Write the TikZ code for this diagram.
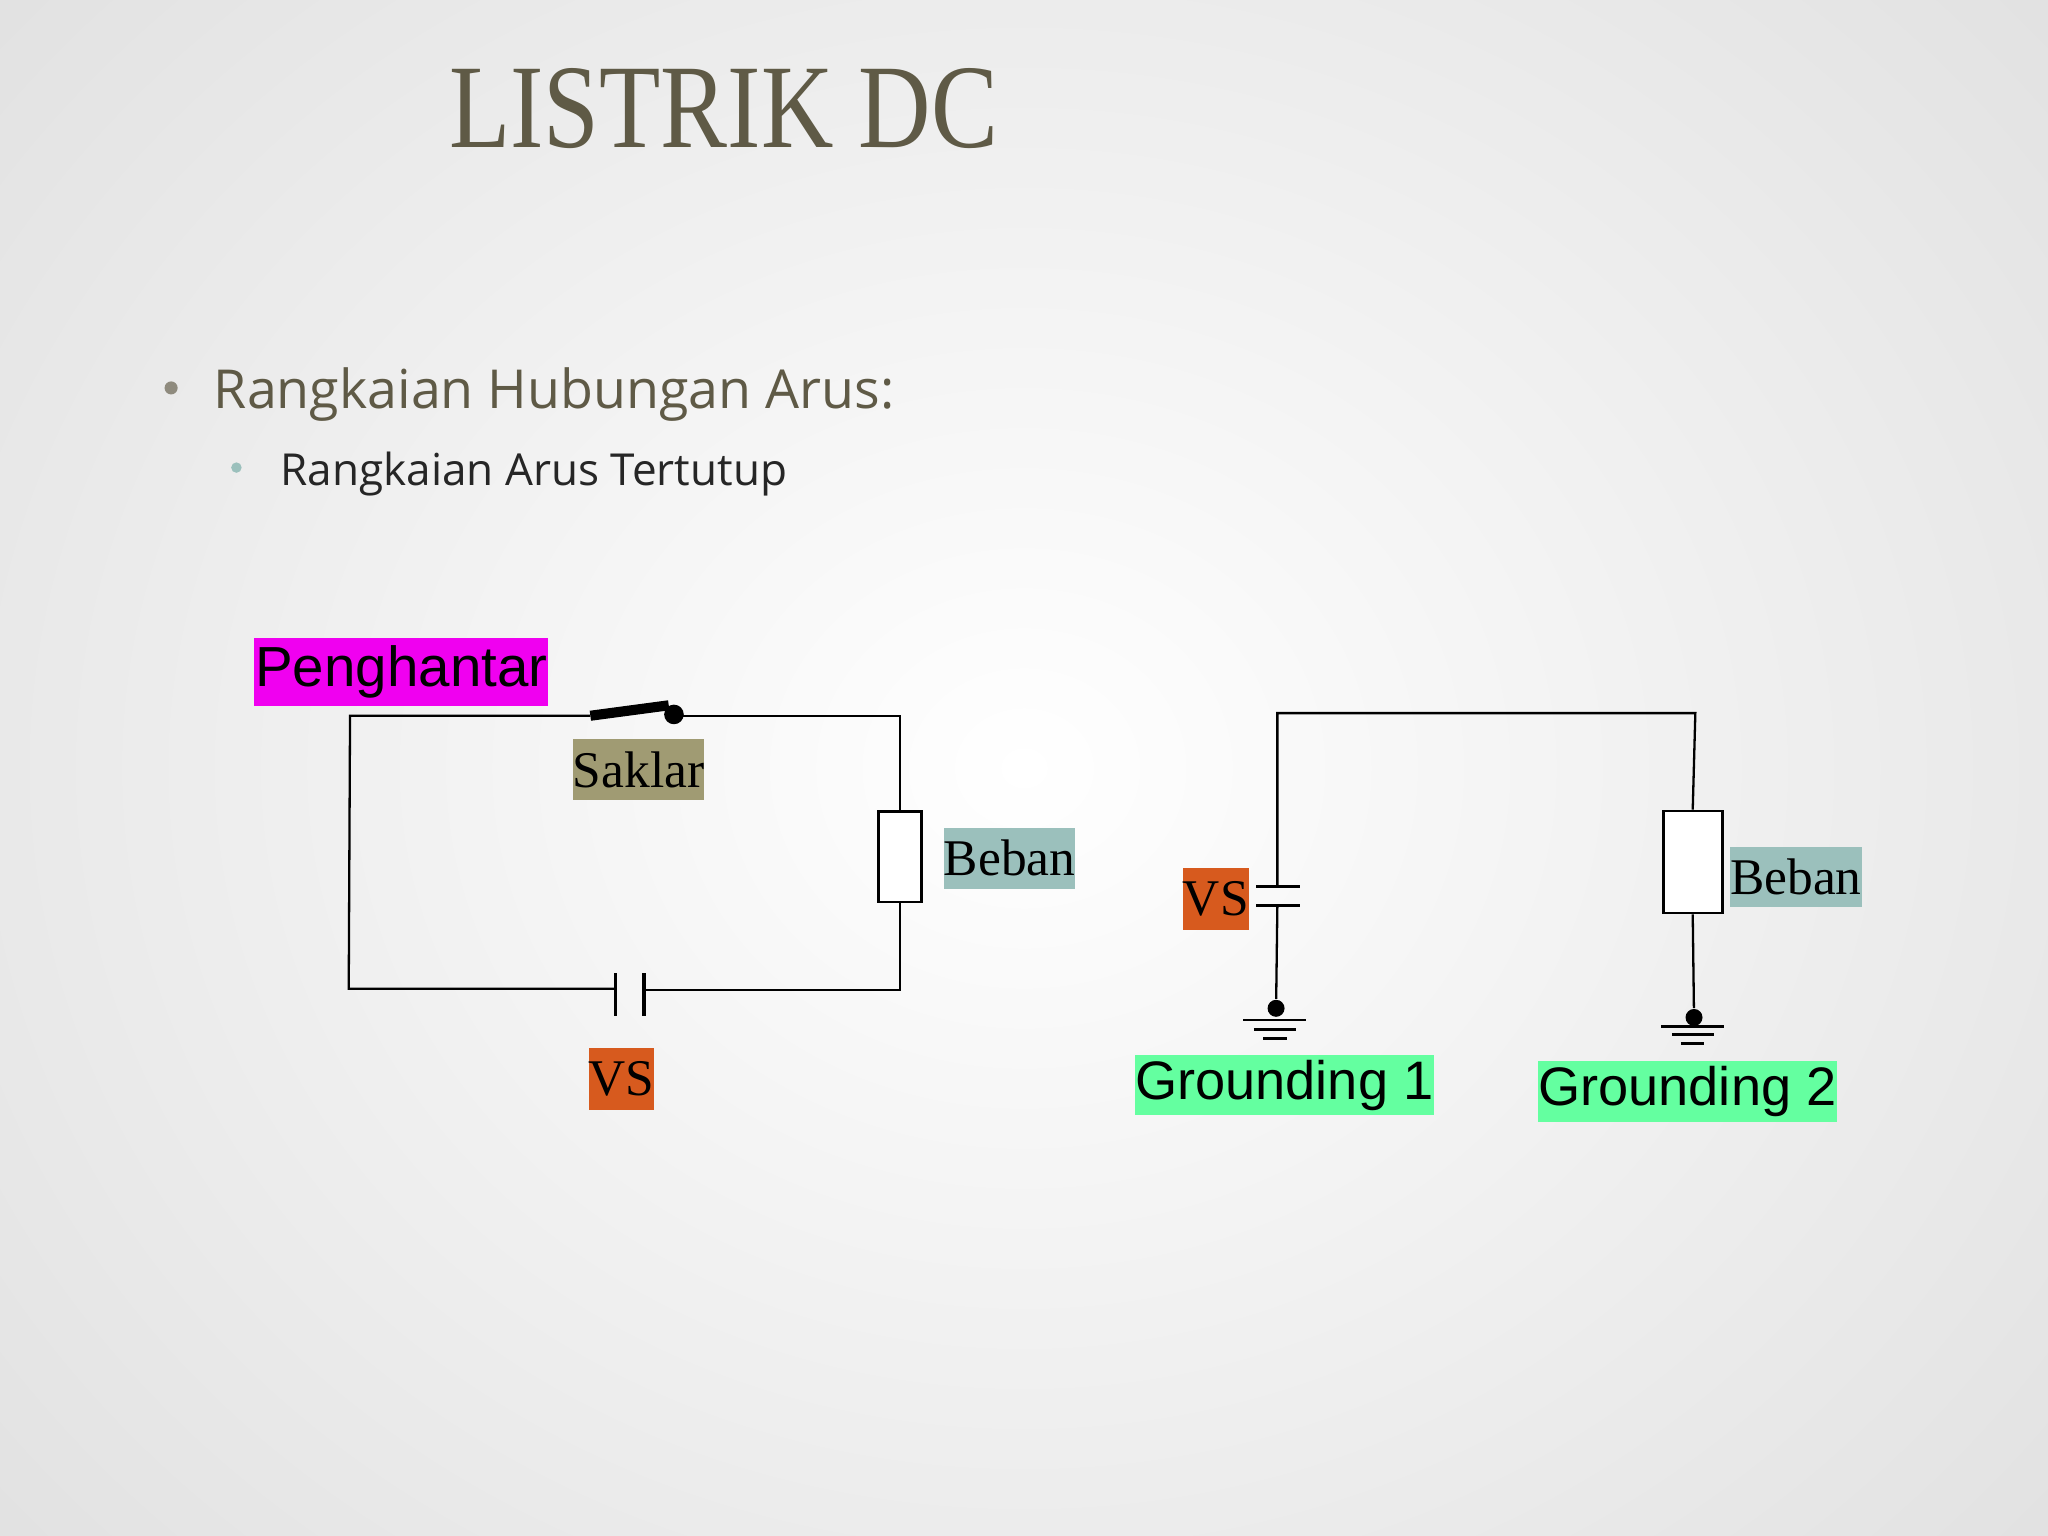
\documentclass[tikz,border=0pt]{standalone}
\usepackage{fontspec}
\setmainfont{Liberation Serif}
\newfontfamily\arialf{Liberation Sans}
\newfontfamily\opensans{Open Sans}
\usetikzlibrary{shapes.geometric}
\definecolor{titlec}{RGB}{95,90,70}
\definecolor{magb}{RGB}{240,0,240}
\definecolor{sakb}{RGB}{160,155,115}
\definecolor{bebb}{RGB}{155,192,188}
\definecolor{vsb}{RGB}{215,90,30}
\definecolor{grb}{RGB}{100,255,160}
\tikzset{
  wire/.style={line width=0.5pt},
  lbl/.style={inner sep=0pt, anchor=north west, font=\fontsize{11.2}{13}\selectfont},
  res/.style={draw, line width=0.6pt, fill=white, inner sep=0pt},
  gnd/.style={line width=0.6pt}
}
\begin{document}
\begin{tikzpicture}[x=0.01cm,y=-0.01cm]
\useasboundingbox (0,0) rectangle (1568,1176);
\fill[black!12] (0,0) rectangle (1568,1176);
\shade[inner color=white, outer color=black!12] (-300,-350) rectangle (1868,1526);
% title
\node[text=titlec, font=\fontsize{26}{30}\selectfont, xscale=0.84, transform shape] (title) at (554,83) {LISTRIK DC};
\node[circle, fill=titlec!70, inner sep=0pt, minimum size=0.1cm] (b1) at (131,297) {};
\node[anchor=base west, text=titlec, font=\opensans\fontsize{11.7}{14}\selectfont, inner sep=0pt] (t1) at (163,313) {Rangkaian Hubungan Arus:};
\node[circle, fill=bebb, inner sep=0pt, minimum size=0.08cm] (b2) at (181,358) {};
\node[anchor=base west, text=black!85, font=\opensans\fontsize{9.6}{12}\selectfont, inner sep=0pt] (t2) at (214,372) {Rangkaian Arus Tertutup};
% left circuit
\coordinate (tl) at (268,548); \coordinate (bl) at (267,757);
\coordinate (sw1) at (452,548); \coordinate (sw2) at (520,548);
\coordinate (tr) at (689,548); \coordinate (br) at (689,758);
\coordinate (c1) at (471,757); \coordinate (c2) at (493,758);
\node[res, minimum width=0.33cm, minimum height=0.69cm] (R1) at (689,656) {};
\draw[wire] (sw1) -- (tl) -- (bl) -- (c1);
\draw[wire] (sw2) -- (tr) -- (R1.north);
\draw[wire] (R1.south) -- (br) -- (c2);
\draw[line width=0.7pt] (471,745) -- (471,778) (493,745) -- (493,778);
\draw[line width=2.2pt] (sw1) -- (512,540);
\node[circle, fill=black, inner sep=0pt, minimum size=0.15cm] (swd) at (516,547) {};
% right circuit
\coordinate (rtl) at (978,546); \coordinate (rtr) at (1298,546);
\coordinate (cp1) at (978,679); \coordinate (cp2) at (978,693);
\node[res, minimum width=0.45cm, minimum height=0.78cm] (R2) at (1296,660) {};
\node[circle, fill=black, inner sep=0pt, minimum width=0.09cm, minimum height=0.13cm] (g1) at (977,772) {};
\node[circle, fill=black, inner sep=0pt, minimum width=0.09cm, minimum height=0.13cm] (g2) at (1297,779) {};
\draw[wire] (cp1) -- (rtl) -- (rtr) -- (R2.north);
\draw[wire] (cp2) -- (g1);
\draw[wire] (R2.south) -- (g2);
\draw[line width=0.6pt] (962,679) -- (995,679) (962,693) -- (995,693);
\draw[gnd] (952,781) -- (1000,781) (960,788) -- (992,788) (967,795) -- (985,795);
\draw[gnd] (1272,786) -- (1320,786) (1280,792) -- (1312,792) (1287,799) -- (1305,799);
% labels
\node[lbl, fill=magb, minimum width=2.25cm, minimum height=0.52cm, font=\arialf\fontsize{12.3}{15}\selectfont] (pen) at (194,488) {Penghantar};
\node[lbl, fill=sakb, minimum width=1.0cm, minimum height=0.47cm] (sak) at (438,565) {Saklar};
\node[lbl, fill=bebb, minimum width=1.0cm, minimum height=0.47cm] (beb1) at (722,633) {Beban};
\node[lbl, fill=vsb, minimum width=0.5cm, minimum height=0.47cm] (vs1) at (450,802) {VS};
\node[lbl, fill=vsb, minimum width=0.5cm, minimum height=0.47cm] (vs2) at (905,664) {VS};
\node[lbl, fill=bebb, minimum width=1.0cm, minimum height=0.46cm] (beb2) at (1324,648) {Beban};
\node[lbl, fill=grb, minimum width=2.29cm, minimum height=0.46cm, font=\arialf\fontsize{11.8}{14}\selectfont] (gr1) at (868,807) {Grounding 1};
\node[lbl, fill=grb, minimum width=2.26cm, minimum height=0.46cm, font=\arialf\fontsize{11.8}{14}\selectfont] (gr2) at (1177,812) {Grounding 2};
\end{tikzpicture}
\end{document}
